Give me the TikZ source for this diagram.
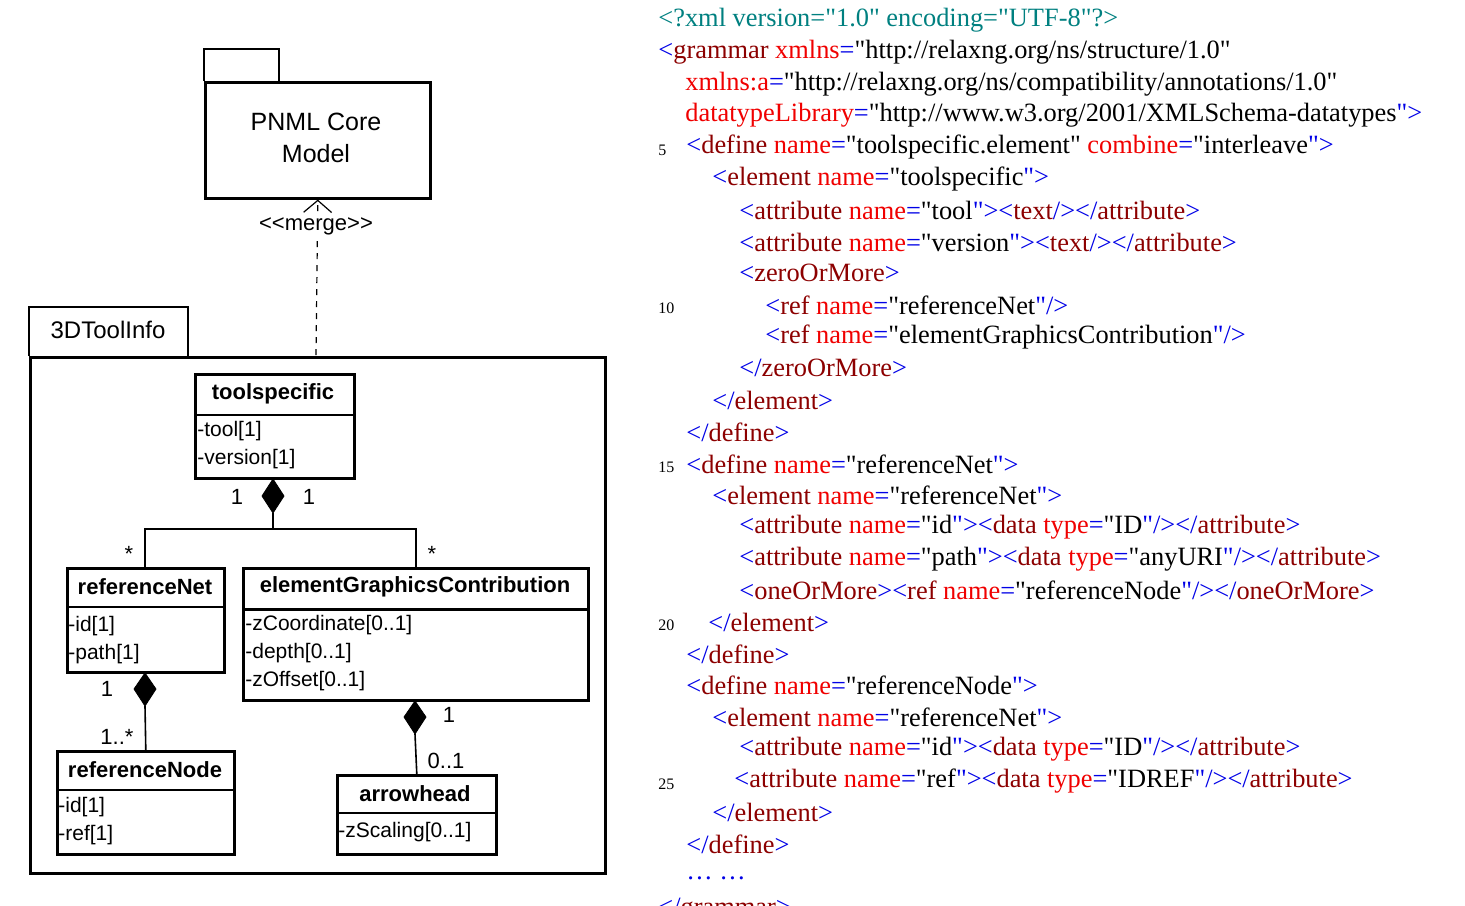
\documentclass[tikz,border=0pt]{standalone}
\usepackage{fontspec}
\setmainfont{Liberation Serif}[Ligatures=TeXOff]
\newfontfamily\uml{Liberation Sans}
\usetikzlibrary{arrows.meta}
\definecolor{xblue}{RGB}{0,0,230}
\definecolor{xmar}{RGB}{140,0,0}
\definecolor{xred}{RGB}{240,0,0}
\definecolor{xteal}{RGB}{0,128,128}
\newcommand\xb[1]{\textcolor{xblue}{#1}}
\newcommand\xm[1]{\textcolor{xmar}{#1}}
\newcommand\xr[1]{\textcolor{xred}{#1}}
\begin{document}
\begin{tikzpicture}[x=0.5pt,y=-0.5pt,
  code/.style={anchor=west,inner sep=0pt,font=\fontsize{13.2}{15}\selectfont},
  ln/.style={anchor=west,inner sep=0pt,font=\fontsize{8}{9}\selectfont},
  box/.style={draw,line width=1.3pt},
  u/.style={inner sep=0pt,font=\uml\fontsize{11}{13}\selectfont},
  ua/.style={anchor=west,inner sep=0pt,font=\uml\fontsize{10.5}{12}\selectfont},
  ub/.style={inner sep=0pt,font=\uml\bfseries\fontsize{11}{13}\selectfont},
  dia/.style={fill=black,draw=black}]
\useasboundingbox (0,0) rectangle (1465,905);
% ---------- XML ----------
\begin{scope}
\clip (0,0) rectangle (1465,905);
\node[code] (l1) at (658,20) {\textcolor{xteal}{<?xml version="1.0" encoding="UTF-8"?>}};
\node[code] (l2) at (658,52) {\xb{<}\xm{grammar} \xr{xmlns}\xb{=}"http://relaxng.org/ns/structure/1.0"};
\node[code] (l3) at (685,84) {\xr{xmlns:a}\xb{=}"http://relaxng.org/ns/compatibility/annotations/1.0"};
\node[code] (l4) at (685,115) {\xr{datatypeLibrary}\xb{=}"http://www.w3.org/2001/XMLSchema-datatypes\xb{">}};
\node[ln] (n5) at (658,150) {5};
\node[code] (l5) at (686,147) {\xb{<}\xm{define} \xr{name}\xb{=}"toolspecific.element" \xr{combine}\xb{=}"interleave\xb{">}};
\node[code] (l6) at (712,179) {\xb{<}\xm{element} \xr{name}\xb{=}"toolspecific\xb{">}};
\node[code] (l7) at (739,210) {\xb{<}\xm{attribute} \xr{name}\xb{=}"tool\xb{"><}\xm{text}\xb{/></}\xm{attribute}\xb{>}};
\node[code] (l8) at (739,242) {\xb{<}\xm{attribute} \xr{name}\xb{=}"version\xb{"><}\xm{text}\xb{/></}\xm{attribute}\xb{>}};
\node[code] (l9) at (739,273) {\xb{<}\xm{zeroOrMore}\xb{>}};
\node[ln] (n10) at (658,308) {10};
\node[code] (l10) at (765,305) {\xb{<}\xm{ref} \xr{name}\xb{=}"referenceNet\xb{"/>}};
\node[code] (l11) at (765,337) {\xb{<}\xm{ref} \xr{name}\xb{=}"elementGraphicsContribution\xb{"/>}};
\node[code] (l12) at (739,368) {\xb{</}\xm{zeroOrMore}\xb{>}};
\node[code] (l13) at (712,400) {\xb{</}\xm{element}\xb{>}};
\node[code] (l14) at (686,432) {\xb{</}\xm{define}\xb{>}};
\node[ln] (n15) at (658,467) {15};
\node[code] (l15) at (686,464) {\xb{<}\xm{define} \xr{name}\xb{=}"referenceNet\xb{">}};
\node[code] (l16) at (712,495) {\xb{<}\xm{element} \xr{name}\xb{=}"referenceNet\xb{">}};
\node[code] (l17) at (739,527) {\xb{<}\xm{attribute} \xr{name}\xb{=}"id\xb{"><}\xm{data} \xr{type}\xb{=}"ID\xb{"/></}\xm{attribute}\xb{>}};
\node[code] (l18) at (739,559) {\xb{<}\xm{attribute} \xr{name}\xb{=}"path\xb{"><}\xm{data} \xr{type}\xb{=}"anyURI\xb{"/></}\xm{attribute}\xb{>}};
\node[code] (l19) at (739,590) {\xb{<}\xm{oneOrMore}\xb{><}\xm{ref} \xr{name}\xb{=}"referenceNode\xb{"/></}\xm{oneOrMore}\xb{>}};
\node[ln] (n20) at (658,625) {20};
\node[code] (l20) at (708,622) {\xb{</}\xm{element}\xb{>}};
\node[code] (l21) at (686,654) {\xb{</}\xm{define}\xb{>}};
\node[code] (l22) at (686,685) {\xb{<}\xm{define} \xr{name}\xb{=}"referenceNode\xb{">}};
\node[code] (l23) at (712,717) {\xb{<}\xm{element} \xr{name}\xb{=}"referenceNet\xb{">}};
\node[code] (l24) at (739,749) {\xb{<}\xm{attribute} \xr{name}\xb{=}"id\xb{"><}\xm{data} \xr{type}\xb{=}"ID\xb{"/></}\xm{attribute}\xb{>}};
\node[ln] (n25) at (658,784) {25};
\node[code] (l25) at (734,781) {\xb{<}\xm{attribute} \xr{name}\xb{=}"ref\xb{"><}\xm{data} \xr{type}\xb{=}"IDREF\xb{"/></}\xm{attribute}\xb{>}};
\node[code] (l26) at (712,812) {\xb{</}\xm{element}\xb{>}};
\node[code] (l27) at (686,844) {\xb{</}\xm{define}\xb{>}};
\node[code] (l28) at (686,878) {\xb{\dots\ \dots}};
\node[code] (l29) at (658,910) {\xb{</}\xm{grammar}\xb{>}};
\end{scope}
% ---------- UML ----------
\draw[line width=1.3pt] (204,81) -- (204,49) -- (279,49) -- (279,81);
\node[box,minimum width=112.5pt,minimum height=58pt,anchor=north west,inner sep=0pt] (core) at (204,81) {};
\node[u,font=\uml\fontsize{12.5}{16}\selectfont,align=center] (coret) at (316,138) {PNML Core\\Model};
\draw[line width=1.3pt] (29,356) -- (29,307) -- (188,307) -- (188,356);
\node[box,minimum width=287.5pt,minimum height=258pt,anchor=north west,inner sep=0pt] (pkg) at (29,356) {};
\node[u,font=\uml\fontsize{12}{14}\selectfont] (pkgt) at (108,330) {3DToolInfo};
\coordinate (mb) at (316,355);
\draw[dashed,line width=0.6pt,-{Straight Barb[length=6pt,width=14pt]}] (mb) -- (core.south);
\node[u,fill=white,inner sep=1pt] (merge) at (316,226) {<<merge>>};
% classes
\node[box,minimum width=79.5pt,minimum height=52pt,anchor=north west,inner sep=0pt] (ts) at (194,373) {};
\draw[line width=1pt] (194,415) -- (353,415);
\node[ub] (tst) at (273,394) {toolspecific};
\node[ua] at (197,431) {-tool[1]};
\node[ua] at (197,459) {-version[1]};
\node[box,minimum width=78.5pt,minimum height=52pt,anchor=north west,inner sep=0pt] (rn) at (66,567) {};
\draw[line width=1pt] (66,607) -- (223,607);
\node[ub] (rnt) at (145,587) {referenceNet};
\node[ua] at (68,626) {-id[1]};
\node[ua] at (68,654) {-path[1]};
\node[box,minimum width=172.5pt,minimum height=66pt,anchor=north west,inner sep=0pt] (eg) at (242,567) {};
\draw[line width=1.5pt] (242,609) -- (587,609);
\node[ub] (egt) at (415,587) {elementGraphicsContribution};
\node[ua] at (245,625) {-zCoordinate[0..1]};
\node[ua] at (245,653) {-depth[0..1]};
\node[ua] at (245,681) {-zOffset[0..1]};
\node[box,minimum width=88.5pt,minimum height=51.5pt,anchor=north west,inner sep=0pt] (rnd) at (56,750) {};
\draw[line width=1pt] (56,790) -- (233,790);
\node[ub] (rndt) at (145,770) {referenceNode};
\node[ua] at (58,807) {-id[1]};
\node[ua] at (58,835) {-ref[1]};
\node[box,minimum width=79.5pt,minimum height=39.5pt,anchor=north west,inner sep=0pt] (ah) at (336,774) {};
\draw[line width=1pt] (336,813) -- (495,813);
\node[ub] (aht) at (415,794) {arrowhead};
\node[ua] at (338,832) {-zScaling[0..1]};
% diamonds
\coordinate (d1t) at (273,479); \coordinate (d1b) at (273,513);
\draw[dia] (d1t) -- (284,496) -- (d1b) -- (262,496) -- cycle;
\coordinate (j1) at (273,529);
\draw[line width=0.8pt] (d1b) -- (j1) -| (rn.north -| 145,0);
\draw[line width=0.8pt] (j1) -| (eg.north);
\coordinate (d2t) at (145,673); \coordinate (d2b) at (145,706);
\draw[dia] (d2t) -- (156,689) -- (d2b) -- (134,689) -- cycle;
\draw[line width=0.8pt] (d2b) -- (rnd.north);
\coordinate (d3t) at (415,701); \coordinate (d3b) at (415,734);
\draw[dia] (d3t) -- (426,717) -- (d3b) -- (404,717) -- cycle;
\draw[line width=0.8pt] (d3b) -- (ah.north);
% multiplicities
\node[u] (m1) at (237,497) {1};
\node[u] (m2) at (309,497) {1};
\node[u] (m3) at (129,554) {*};
\node[u] (m4) at (432,554) {*};
\node[u] (m5) at (107,689) {1};
\node[u] (m6) at (117,737) {1..*};
\node[u] (m7) at (449,715) {1};
\node[u] (m8) at (446,761) {0..1};
\end{tikzpicture}
\end{document}
